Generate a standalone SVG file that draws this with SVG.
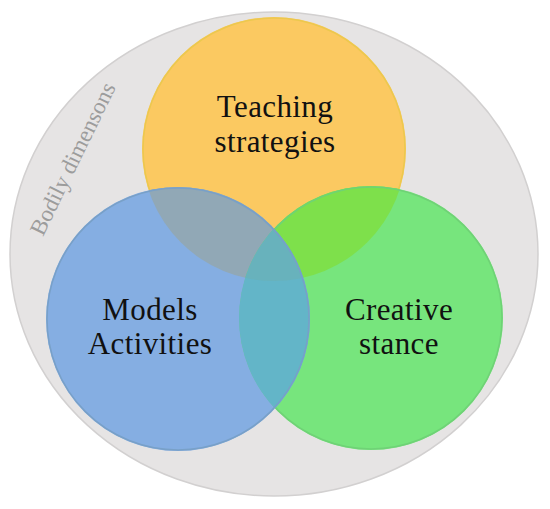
<svg xmlns="http://www.w3.org/2000/svg" width="550" height="509" viewBox="0 0 550 509">
  <style>
    .lbl { font-family: "Liberation Serif", "DejaVu Serif", serif; font-size: 31px; letter-spacing: 0.4px; fill: #111; text-anchor: middle; }
    .outer-lbl { font-family: "Liberation Serif", "DejaVu Serif", serif; font-size: 23px; fill: #9c9c9c; }
  </style>
  <defs>
    <clipPath id="clipY"><circle cx="274" cy="149" r="132"/></clipPath>
    <clipPath id="clipG"><circle cx="371" cy="318" r="132"/></clipPath>
  </defs>
  <rect width="550" height="509" fill="#ffffff"/>
  <g id="outer">
    <ellipse cx="274" cy="254" rx="264" ry="242" fill="#e6e4e4" stroke="#d2d0d0" stroke-width="1.5"/>
    <text class="outer-lbl" transform="translate(43 237) rotate(-64)">Bodily dimensons</text>
  </g>
  <g id="teaching">
    <circle cx="274" cy="149" r="132" fill="#fbc961"/>
    <circle cx="274" cy="149" r="131" fill="none" stroke="#ecc84e" stroke-width="1.5"/>
  </g>
  <g id="creative">
    <circle cx="371" cy="318" r="132" fill="#77e57d"/>
  </g>
  <g id="models">
    <circle cx="178" cy="319" r="132" fill="#85aee2"/>
  </g>
  <g id="overlaps">
    <circle cx="178" cy="319" r="132" fill="#91a8b6" clip-path="url(#clipY)"/>
    <circle cx="371" cy="318" r="132" fill="#7ee04b" clip-path="url(#clipY)"/>
    <circle cx="371" cy="318" r="131" fill="none" stroke="#6fd276" stroke-width="1.5"/>
    <circle cx="178" cy="319" r="132" fill="#63b5c8" clip-path="url(#clipG)"/>
    <g clip-path="url(#clipY)">
      <circle cx="178" cy="319" r="132" fill="#68b2bc" clip-path="url(#clipG)"/>
    </g>
    <circle cx="178" cy="319" r="131" fill="none" stroke="#78a0c8" stroke-width="1.5"/>
  </g>
  <g id="labels">
    <text class="lbl" x="275" y="117">Teaching</text>
    <text class="lbl" x="275" y="152">strategies</text>
    <text class="lbl" x="150" y="320">Models</text>
    <text class="lbl" x="150" y="354">Activities</text>
    <text class="lbl" x="399" y="320">Creative</text>
    <text class="lbl" x="399" y="354">stance</text>
  </g>
</svg>
